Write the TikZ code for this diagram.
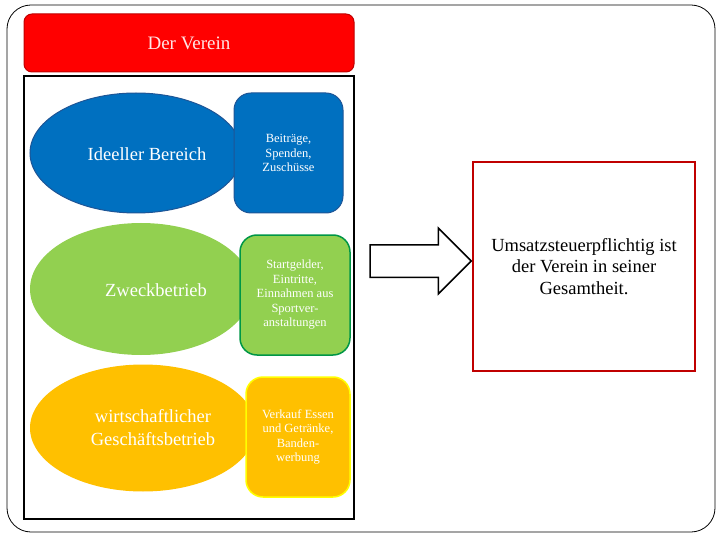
\documentclass[tikz,border=0pt]{standalone}
\usepackage{fontspec}
\setmainfont{Liberation Serif}
\usetikzlibrary{shapes.geometric,shapes.arrows}
\definecolor{vrred}{RGB}{255,0,0}
\definecolor{vrdarkred}{RGB}{192,0,0}
\definecolor{vrblue}{RGB}{0,112,192}
\definecolor{vrblueline}{RGB}{30,85,150}
\definecolor{vrgreen}{RGB}{146,208,80}
\definecolor{vrgreenline}{RGB}{0,150,70}
\definecolor{vryellow}{RGB}{255,192,0}
\definecolor{vryellowline}{RGB}{255,255,0}
\tikzset{
  bereich/.style={ellipse, inner sep=0pt},
  bereichtext/.style={text=white, align=center, font=\fontsize{18.5}{23}\selectfont},
  quelle/.style={rounded corners=17pt, inner sep=0pt, text=white, align=center,
    font=\fontsize{12.5}{14.5}\selectfont}
}

\begin{document}
\begin{tikzpicture}[x=1pt,y=-1pt]
  \useasboundingbox (0,0) rectangle (720,540);
  % slide frame
  \draw[black, line width=0.8pt, rounded corners=24pt] (7,5) rectangle (715,532);
  % header
  \node[draw=vrdarkred, fill=vrred, line width=1pt, rounded corners=8pt,
    minimum width=330pt, minimum height=58pt, text=white!90!red,
    font=\fontsize{19}{22}\selectfont] (verein) at (189,43) {Der Verein};
  % outer box
  \draw[black, line width=2pt] (24,76) rectangle (354,519);
  % areas
  \node[bereich, draw=vrblueline, fill=vrblue, line width=1pt,
    minimum width=212pt, minimum height=120pt] (ideell) at (136,153) {};
  \node[bereichtext] at (147,154) {Ideeller Bereich};
  \node[bereich, fill=vrgreen, minimum width=222pt, minimum height=132pt]
    (zweck) at (141,289) {};
  \node[bereichtext] at (156,290) {Zweckbetrieb};
  \node[bereich, fill=vryellow, minimum width=226pt, minimum height=127pt]
    (wirtschaft) at (143,428) {};
  \node[bereichtext] at (153,428) {wirtschaftlicher\\Geschäftsbetrieb};
  % income sources
  \node[quelle, draw=vrblueline, fill=vrblue, line width=1pt,
    minimum width=109pt, minimum height=120pt] (beitraege) at (288.5,153)
    {Beiträge,\\Spenden,\\Zuschüsse};
  \node[quelle, draw=vrgreenline, fill=vrgreen, line width=1.5pt,
    minimum width=110pt, minimum height=120pt] (startgeld) at (295,295)
    {Startgelder,\\Eintritte,\\Einnahmen aus\\Sportver-\\anstaltungen};
  \node[quelle, draw=vryellowline, fill=vryellow, line width=1.5pt,
    minimum width=104pt, minimum height=120pt] (verkauf) at (298,437)
    {Verkauf Essen\\und Getränke,\\Banden-\\werbung};
  % result
  \node[draw=vrdarkred, line width=1.5pt, minimum width=222pt, minimum height=209pt,
    align=center, font=\fontsize{18.5}{21.5}\selectfont] (gesamt) at (584,266.5)
    {Umsatzsteuerpflichtig ist\\der Verein in seiner\\Gesamtheit.};
  \node[single arrow, draw=black, line width=1.5pt, fill=white, inner sep=15.5pt,
    minimum height=101pt, single arrow head extend=16.5pt,
    anchor=tip] (pfeil) at (gesamt.west |- 0,261) {};
\end{tikzpicture}
\end{document}
